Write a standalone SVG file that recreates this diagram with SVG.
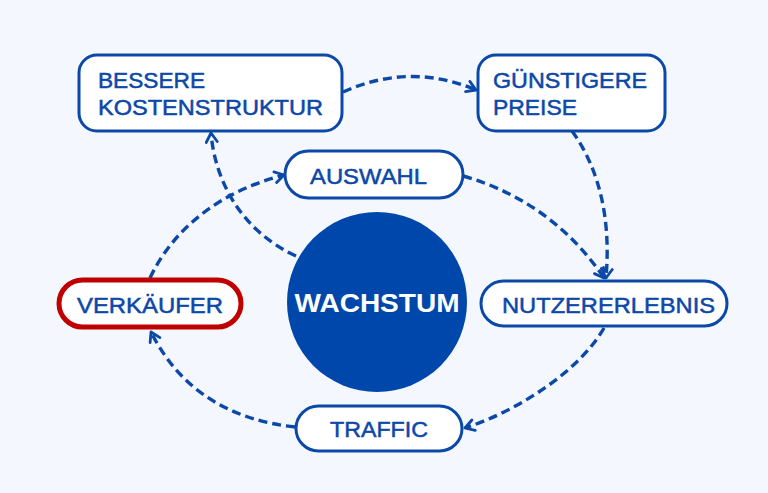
<svg xmlns="http://www.w3.org/2000/svg" width="768" height="493" viewBox="0 0 768 493">
<style>
.box{fill:#ffffff;stroke:#0B48A8;stroke-width:3}
.red{fill:#ffffff;stroke:#C00000;stroke-width:5}
.t{font-family:"Liberation Sans","Open Sans",sans-serif;font-size:22px;fill:#0B48A8;stroke:#0B48A8;stroke-width:0.5}
.c{text-anchor:middle}
.con{fill:none;stroke:#0B48A8;stroke-width:3.4;stroke-dasharray:9 5;marker-end:url(#ah)}
</style>
<defs>
<marker id="ah" viewBox="0 0 14 14" refX="11.5" refY="7" markerWidth="14" markerHeight="14" markerUnits="userSpaceOnUse" orient="auto">
<path d="M2.5,1.5 L11.5,7 L2.5,12.5" fill="none" stroke="#0B48A8" stroke-width="2.8" stroke-linejoin="round" stroke-linecap="round"/>
</marker>
</defs>
<rect width="768" height="493" fill="#F4F8FE"/>
<g id="connectors">
<path class="con" d="M343,92 Q410,62 476,90"/>
<path class="con" d="M572,131 C600,170 611,220 606,278"/>
<path class="con" d="M463,176 C530,195 575,235 604,278"/>
<path class="con" d="M604,328 C580,370 520,410 465,428"/>
<path class="con" d="M295,427 C230,420 180,390 151,332"/>
<path class="con" d="M150,278 C175,225 225,190 284,175"/>
<path class="con" d="M296,256 C240,230 215,180 211,133"/>
</g>
<g id="bessere">
<rect class="box" x="79" y="55" width="263" height="76" rx="18"/>
<text class="t" x="98" y="88" textLength="107" lengthAdjust="spacingAndGlyphs">BESSERE</text>
<text class="t" x="98" y="115" textLength="225" lengthAdjust="spacingAndGlyphs">KOSTENSTRUKTUR</text>
</g>
<g id="guenstigere">
<rect class="box" x="478" y="55" width="187" height="76" rx="18"/>
<text class="t" x="493" y="88" textLength="154" lengthAdjust="spacingAndGlyphs">GÜNSTIGERE</text>
<text class="t" x="493" y="115" textLength="84" lengthAdjust="spacingAndGlyphs">PREISE</text>
</g>
<g id="auswahl">
<rect class="box" x="285" y="151" width="178" height="47" rx="23.5"/>
<text class="t c" x="368.5" y="184" textLength="117" lengthAdjust="spacingAndGlyphs">AUSWAHL</text>
</g>
<g id="verkaeufer">
<rect class="red" x="59" y="280" width="182" height="47" rx="23.5"/>
<text class="t c" x="150" y="313" textLength="146" lengthAdjust="spacingAndGlyphs">VERKÄUFER</text>
</g>
<g id="nutzererlebnis">
<rect class="box" x="481" y="281" width="246" height="45" rx="22.5"/>
<text class="t c" x="608.5" y="313" textLength="213" lengthAdjust="spacingAndGlyphs">NUTZERERLEBNIS</text>
</g>
<g id="traffic">
<rect class="box" x="296" y="406" width="166" height="45" rx="22.5"/>
<text class="t c" x="379" y="437" textLength="98" lengthAdjust="spacingAndGlyphs">TRAFFIC</text>
</g>
<g id="wachstum">
<circle cx="377" cy="302" r="90" fill="#0047AB"/>
<text x="377" y="312" text-anchor="middle" font-family="'Liberation Sans','Open Sans',sans-serif" font-size="26" font-weight="700" fill="#ffffff" textLength="165" lengthAdjust="spacingAndGlyphs">WACHSTUM</text>
</g>
</svg>
